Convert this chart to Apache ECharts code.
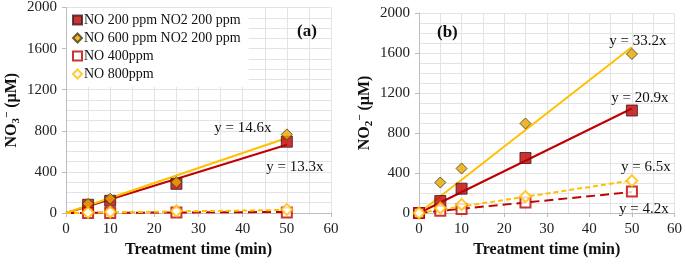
<!DOCTYPE html>
<html>
<head>
<meta charset="utf-8">
<script src="https://cdn.jsdelivr.net/npm/echarts@6/dist/echarts.min.js"></script>
<style>
  html, body { margin: 0; padding: 0; background: #fff; }
  #chart { width: 685px; height: 266px; }
</style>
</head>
<body>
<div id="chart"></div>
<script>
// series names
const names = ['NO 200 ppm NO2 200 ppm', 'NO 600 ppm NO2 200 ppm', 'NO 400ppm', 'NO 800ppm']

// (a) NO3- values
const timeA = [5, 10, 25, 50]
const no3Mix200 = [80, 119, 284, 694]
const no3Mix600 = [90, 139, 300, 765]
const no3No400 = [0, 0, 5, 5]
const no3No800 = [5, 10, 20, 35]
const slopesA = [13.3, 14.6, 0.2, 0.6]
const trendLabelsA = ['y = 13.3x', 'y = 14.6x', '', '']

// (b) NO2- values
const timeB = [0, 5, 10, 25, 50]
const no2Mix200 = [0, 120, 243, 550, 1025]
const no2Mix600 = [0, 305, 445, 895, 1590]
const no2No400 = [0, 23, 40, 105, 215]
const no2No800 = [0, 50, 85, 165, 323]
const slopesB = [20.9, 33.2, 4.2, 6.5]
const trendLabelsB = ['y = 20.9x', 'y = 33.2x', 'y = 4.2x', 'y = 6.5x']

const trendEnd = 50

const RED = '#C00000'
const ORANGE = '#FFC000'
const FONT = 'Liberation Serif'

const markerStyles = [
  { symbol: 'rect', symbolSize: 11, itemStyle: { color: RED, borderColor: '#3a1a1a', borderWidth: 1 } },
  { symbol: 'diamond', symbolSize: 11, itemStyle: { color: '#E8A800', borderColor: '#4a3a10', borderWidth: 1 } },
  { symbol: 'rect', symbolSize: 10, itemStyle: { color: '#fff', borderColor: RED, borderWidth: 2 } },
  { symbol: 'diamond', symbolSize: 11, itemStyle: { color: '#fff', borderColor: ORANGE, borderWidth: 2 } }
]
const lineStyles = [
  { color: RED, width: 2, type: 'solid' },
  { color: ORANGE, width: 2, type: 'solid' },
  { color: RED, width: 2, type: [9, 5] },
  { color: ORANGE, width: 2, type: [5, 3] }
]
// label offsets for trend text next to the end of each line
const labelOffsetsA = [[8, 22], [-44, -10], [0, 0], [0, 0]]
const labelOffsetsB = [[8, -10], [6, -6], [12, 17], [14, -13]]

function buildSeries(idx, xs, ysList, slopes, labels, offsets) {
  const out = []
  slopes.forEach((k, i) => {
    out.push({
      type: 'line',
      xAxisIndex: idx,
      yAxisIndex: idx,
      data: [[0, 0], [trendEnd, +(k * trendEnd).toFixed(1)]],
      showSymbol: false,
      symbol: 'none',
      silent: true,
      lineStyle: lineStyles[i],
      z: 2,
      endLabel: {
        show: labels[i] !== '',
        formatter: labels[i],
        fontFamily: FONT,
        fontSize: 15,
        color: '#111',
        offset: offsets[i],
        align: 'center',
        verticalAlign: 'middle',
        distance: 0
      }
    })
  })
  ysList.forEach((ys, i) => {
    out.push({
      name: names[i],
      type: 'scatter',
      xAxisIndex: idx,
      yAxisIndex: idx,
      data: xs.map((x, j) => [x, ys[j]]),
      symbol: markerStyles[i].symbol,
      symbolSize: markerStyles[i].symbolSize,
      itemStyle: markerStyles[i].itemStyle,
      z: 3
    })
  })
  return out
}

const chart = echarts.init(document.getElementById('chart'))

const gridColor = '#e3e3e3'
const axisLabel = { fontFamily: FONT, fontSize: 15, color: '#222', formatter: v => String(v) }

function xAxis(idx) {
  return {
    type: 'value',
    gridIndex: idx,
    min: 0,
    max: 60,
    interval: 10,
    name: 'Treatment time (min)',
    nameLocation: 'middle',
    nameGap: 27,
    nameTextStyle: { fontFamily: FONT, fontSize: 16, fontWeight: 'bold', color: '#111' },
    axisLine: { show: true, lineStyle: { color: '#bdbdbd' } },
    axisTick: { show: true, length: 4, lineStyle: { color: '#bdbdbd' } },
    axisLabel: Object.assign({ margin: 9 }, axisLabel),
    splitLine: { show: true, lineStyle: { color: gridColor } },
    minorTick: { show: false, splitNumber: 2 },
    minorSplitLine: { show: true, lineStyle: { color: gridColor } }
  }
}

function yAxis(idx, sub) {
  return {
    type: 'value',
    gridIndex: idx,
    min: 0,
    max: 2000,
    interval: 400,
    name: '{b|NO}{s|' + sub + '}{p|\u2212}{b| (\u00b5M)}',
    nameLocation: 'middle',
    nameGap: 44,
    nameTextStyle: {
      rich: {
        b: { fontFamily: FONT, fontSize: 16, fontWeight: 'bold', color: '#111', lineHeight: 20, verticalAlign: 'middle' },
        s: { fontFamily: FONT, fontSize: 11, fontWeight: 'bold', color: '#111', lineHeight: 20, verticalAlign: 'bottom' },
        p: { fontFamily: FONT, fontSize: 11, fontWeight: 'bold', color: '#111', lineHeight: 20, verticalAlign: 'top' }
      }
    },
    axisLine: { show: true, lineStyle: { color: '#bdbdbd' } },
    axisTick: { show: true, length: 4, lineStyle: { color: '#bdbdbd' } },
    axisLabel: Object.assign({ margin: 9 }, axisLabel),
    splitLine: { show: true, lineStyle: { color: gridColor } },
    minorTick: { show: false, splitNumber: 4 },
    minorSplitLine: { show: true, lineStyle: { color: gridColor } }
  }
}

const option = {
  animation: false,
  textStyle: { fontFamily: FONT },
  grid: [
    { left: 66, right: 354, top: 7, bottom: 53 },
    { left: 419, right: 9, top: 13, bottom: 53 }
  ],
  xAxis: [xAxis(0), xAxis(1)],
  yAxis: [yAxis(0, '3'), yAxis(1, '2')],
  legend: {
    data: names,
    orient: 'vertical',
    left: 67,
    top: 8,
    itemGap: 4,
    itemWidth: 9,
    itemHeight: 9,
    backgroundColor: '#fff',
    padding: [5, 8, 6, 5],
    selectedMode: false,
    textStyle: { fontFamily: FONT, fontSize: 14, color: '#111', padding: [0, 0, 0, -3] }
  },
  title: [
    { text: '(a)', left: 292, top: 18, textStyle: { fontFamily: FONT, fontSize: 17, fontWeight: 'bold', color: '#111' } },
    { text: '(b)', left: 432, top: 19, textStyle: { fontFamily: FONT, fontSize: 17, fontWeight: 'bold', color: '#111' } }
  ],
  series: [
    ...buildSeries(0, timeA, [no3Mix200, no3Mix600, no3No400, no3No800], slopesA, trendLabelsA, labelOffsetsA),
    ...buildSeries(1, timeB, [no2Mix200, no2Mix600, no2No400, no2No800], slopesB, trendLabelsB, labelOffsetsB)
  ]
}

chart.setOption(option)
window.addEventListener('resize', () => chart.resize())
</script>
</body>
</html>
